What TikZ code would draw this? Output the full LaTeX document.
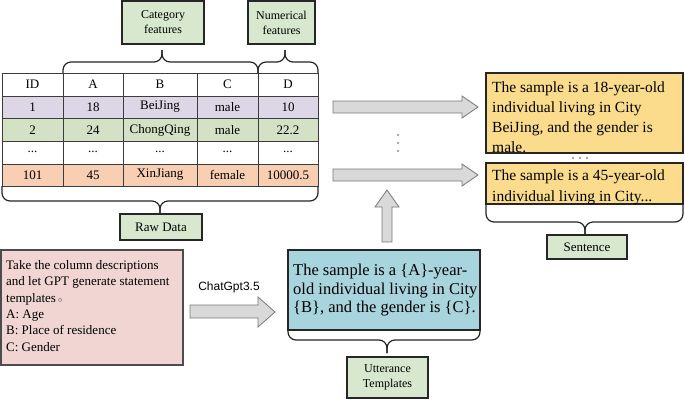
\documentclass[tikz,border=0pt]{standalone}
\usepackage{fontspec}
\setmainfont{Liberation Serif}
\newfontfamily\arialf{Liberation Sans}
\newcommand\tdots{...}
\definecolor{boxgreen}{RGB}{216,232,206}
\definecolor{rowlav}{RGB}{220,214,230}
\definecolor{rowgreen}{RGB}{211,226,196}
\definecolor{rowpeach}{RGB}{248,207,178}
\definecolor{pinkbox}{RGB}{240,213,211}
\definecolor{bluebox}{RGB}{168,212,222}
\definecolor{yelbox}{RGB}{250,220,140}
\definecolor{arrfill}{RGB}{217,217,217}
\definecolor{arrdraw}{RGB}{120,120,120}
\definecolor{gridc}{RGB}{60,60,60}
\tikzset{
  labelbox/.style={draw=black!85, line width=1.4pt, fill=boxgreen, align=center, inner sep=0pt},
  cell/.style={inner sep=0pt, font=\fontsize{13}{15}\selectfont},
  blockarrow/.style={draw=arrdraw, fill=arrfill, line width=0.8pt, line join=miter},
  bracepath/.style={draw=black!85, line width=1.2pt, rounded corners=8pt},
}
\begin{document}
\begin{tikzpicture}[x=1pt,y=-1pt]
\useasboundingbox (0,0) rectangle (685,402);
\fill[white] (0,0) rectangle (685,402);

% ---- table ----
\fill[rowlav] (2,96) rectangle (318,118);
\fill[rowgreen] (2,118) rectangle (318,141);
\fill[rowpeach] (2,164) rectangle (318,186);
\draw[gridc, line width=0.9pt] (2,73) rectangle (318,186);
\foreach \yy in {96,118,141,164} \draw[gridc, line width=0.9pt] (2,\yy) -- (318,\yy);
\foreach \xx in {63,123,197,258} \draw[gridc, line width=0.9pt] (\xx,73) -- (\xx,186);
\foreach \r/\yy/\ca/\cb/\cc/\cd/\ce in {
  h/84.5/ID/A/B/C/D,
  a/107/1/18/BeiJing/male/10,
  b/130/2/24/ChongQing/male/22.2,
  c/152/\tdots/\tdots/\tdots/\tdots/\tdots,
  d/175/101/45/XinJiang/female/10000.5}{
  \node[cell] (c\r1) at (32.5,\yy) {\ca};
  \node[cell] (c\r2) at (93,\yy) {\cb};
  \node[cell] (c\r3) at (160,\yy) {\cc};
  \node[cell] (c\r4) at (227.5,\yy) {\cd};
  \node[cell] (c\r5) at (288,\yy) {\ce};
}

% ---- braces around table ----
\draw[bracepath] (63,73) |- (162,62) -- (162,50);
\draw[bracepath] (258,73) |- (162,62) -- (162,50);
\draw[bracepath] (258,73) |- (285,62) -- (285,50);
\draw[bracepath] (318,73) |- (285,62) -- (285,50);
\draw[bracepath] (2,186) |- (160,201) -- (160,213);
\draw[bracepath] (318,186) |- (160,201) -- (160,213);

% ---- label boxes ----
\node[labelbox, minimum width=82pt, minimum height=43pt, font=\fontsize{12}{15}\selectfont] (cat) at (163,22.5) {Category\\features};
\node[labelbox, minimum width=67pt, minimum height=43pt, font=\fontsize{12}{15}\selectfont] (num) at (281.5,22.5) {Numerical\\features};
\node[labelbox, minimum width=82pt, minimum height=26pt, font=\fontsize{13}{15}\selectfont] (raw) at (161,227) {Raw Data};

% ---- right block arrows ----
\draw[blockarrow] (333,101) -- (462,101) -- (462,96) -- (478,107) -- (462,118) -- (462,113) -- (333,113) -- cycle;
\draw[blockarrow] (333,169) -- (462,169) -- (462,164) -- (478,175) -- (462,186) -- (462,181) -- (333,181) -- cycle;
\foreach \yy in {135,143,151} \fill[black!70] (398,\yy) circle (0.9pt);

% ---- sentence boxes ----
\node[draw=black!85, line width=1.4pt, fill=yelbox, minimum width=197pt, minimum height=80pt, inner sep=0pt] (s1) at (584.5,113) {};
\node[anchor=north west, align=left, inner sep=0pt, font=\fontsize{15.5}{19.7}\selectfont] (s1t) at (492,82) {The sample is a 18-year-old\\individual living in City\\BeiJing, and the gender is\\male.};
\node[draw=black!85, line width=1.4pt, fill=yelbox, minimum width=197pt, minimum height=41pt, inner sep=0pt] (s2) at (584.5,183.5) {};
\node[anchor=north west, align=left, inner sep=0pt, font=\fontsize{15.5}{21.5}\selectfont] (s2t) at (492,169.5) {The sample is a 45-year-old\\individual living in City...};
\foreach \xx in {573,580,587} \fill[black!70] (\xx,158) circle (0.9pt);
\draw[bracepath] (486,204) |- (585,222) -- (585,234);
\draw[bracepath] (683,204) |- (585,222) -- (585,234);
\node[labelbox, minimum width=80pt, minimum height=24pt, font=\fontsize{13}{15}\selectfont] (sent) at (587,247) {Sentence};

% ---- up arrow ----
\draw[blockarrow] (382,242) -- (382,207) -- (375,207) -- (387,190) -- (399,207) -- (392,207) -- (392,242) -- cycle;

% ---- pink prompt box ----
\node[draw=black!70, line width=1.2pt, fill=pinkbox, minimum width=182pt, minimum height=115pt, inner sep=0pt] (prompt) at (92,307.5) {};
\node[anchor=north west, align=left, inner sep=0pt, font=\fontsize{13}{16.4}\selectfont] (promptt) at (6,260) {Take the column descriptions\\and let GPT generate statement\\templates\,\scalebox{0.7}{$\circ$}\\A: Age\\B: Place of residence\\C: Gender};

% ---- ChatGPT arrow ----
\node[font=\arialf\fontsize{12}{14}\selectfont, inner sep=0pt] (gptlbl) at (229,287) {ChatGpt3.5};
\draw[blockarrow] (190,305) -- (258,305) -- (258,297) -- (275,312) -- (258,327) -- (258,318) -- (190,318) -- cycle;

% ---- blue template box ----
\node[draw=black!85, line width=1.4pt, fill=bluebox, minimum width=192pt, minimum height=80pt, inner sep=0pt] (tmpl) at (384,290) {};
\node[anchor=north west, align=left, inner sep=0pt, font=\fontsize{16.5}{18.5}\selectfont] (tmplt) at (293,264) {The sample is a \{A\}-year-\\old individual living in City\\\{B\}, and the gender is \{C\}.};
\draw[bracepath] (288,330) |- (387,340) -- (387,353);
\draw[bracepath] (480,330) |- (387,340) -- (387,353);
\node[labelbox, minimum width=81pt, minimum height=41pt, font=\fontsize{12}{15}\selectfont] (utt) at (387.5,377.5) {Utterance\\Templates};
\end{tikzpicture}
\end{document}
